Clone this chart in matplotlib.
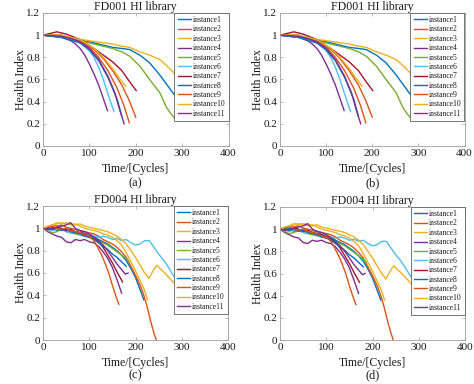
import matplotlib
matplotlib.use("Agg")
import matplotlib.pyplot as plt

plt.rcParams['font.family'] = ['Liberation Serif', 'DejaVu Serif']

# ---------------- data ----------------
labels = ['instance%d' % i for i in range(1, 12)]
colors = ['#0072BD', '#D95319', '#EDB120', '#7E2F8E', '#77AC30', '#4DBEEE',
          '#A2142F', '#0072BD', '#D95319', '#EDB120', '#7E2F8E']

# FD001 HI library (smooth degradation curves)
fd001_x = [
    [0, 50, 100, 150, 170, 187, 209, 230, 252, 273, 287, 300],
    [0, 40, 80, 110, 130, 150, 170, 185, 200],
    [0, 50, 100, 150, 170, 187, 209, 230, 252, 273, 287, 300],
    [0, 20, 40, 60, 70, 80, 90, 100, 110, 120, 130, 139],
    [0, 50, 100, 150, 170, 187, 209, 230, 252, 266, 276, 284],
    [0, 40, 60, 80, 100, 110, 120, 130, 140, 153],
    [0, 20, 30, 50, 80, 110, 130, 150, 170, 185, 201],
    [0, 40, 80, 100, 120, 140, 160, 170],
    [0, 40, 70, 100, 120, 140, 160, 175, 186],
    [0, 40, 80, 110, 130, 150, 165, 178],
    [0, 40, 60, 80, 100, 120, 140, 155, 165, 175],
]
fd001_y = [
    [1.0, 0.98, 0.94, 0.89, 0.88, 0.87, 0.82, 0.75, 0.64, 0.52, 0.44, 0.38],
    [1.0, 1.0, 0.95, 0.87, 0.79, 0.68, 0.55, 0.42, 0.26],
    [1.0, 0.98, 0.95, 0.92, 0.90, 0.89, 0.85, 0.82, 0.78, 0.70, 0.64, 0.60],
    [1.0, 0.99, 0.98, 0.95, 0.92, 0.88, 0.82, 0.74, 0.65, 0.55, 0.43, 0.32],
    [1.0, 0.98, 0.93, 0.88, 0.85, 0.81, 0.72, 0.60, 0.48, 0.35, 0.29, 0.25],
    [1.0, 0.98, 0.96, 0.93, 0.86, 0.80, 0.71, 0.60, 0.47, 0.31],
    [1.0, 1.02, 1.03, 1.01, 0.96, 0.88, 0.82, 0.76, 0.68, 0.59, 0.50],
    [1.0, 0.98, 0.93, 0.87, 0.77, 0.62, 0.42, 0.27],
    [1.0, 1.0, 0.96, 0.89, 0.80, 0.68, 0.52, 0.36, 0.21],
    [1.0, 1.0, 0.96, 0.88, 0.80, 0.70, 0.61, 0.54],
    [1.0, 0.99, 0.97, 0.94, 0.88, 0.78, 0.63, 0.48, 0.33, 0.20],
]

# FD004 HI library (noisy degradation curves)
fd004_x = [
    [0, 10, 20, 30, 40, 50, 60, 70, 80, 90, 100, 110, 120, 130, 140, 150, 160, 170, 180, 190, 200, 210, 218],
    [0, 10, 20, 30, 40, 50, 60, 70, 80, 90, 100, 110, 120, 130, 140, 150, 160, 170, 180, 190, 200, 210, 218, 225, 232, 240, 245],
    [0, 10, 20, 30, 40, 50, 60, 70, 80, 90, 100, 110, 120, 130, 140, 150, 160, 170, 180, 190, 200, 210, 220, 226],
    [0, 10, 20, 30, 40, 50, 60, 70, 80, 90, 100, 110, 120, 130, 140, 150, 160, 170],
    [0, 10, 20, 30, 40, 50, 60, 70, 80, 90, 100, 110, 120, 130, 140, 150, 160, 170, 180, 186],
    [0, 10, 20, 30, 40, 50, 60, 70, 80, 90, 100, 110, 120, 130, 140, 150, 160, 170, 180, 190, 200, 210, 220, 230, 240, 250, 260, 270, 280, 290],
    [0, 10, 20, 30, 40, 50, 60, 70, 80, 90, 100, 110, 120, 130, 140, 150, 160, 172],
    [0, 10, 20, 30, 40, 50, 60, 70, 80, 90, 100, 110, 120, 130, 140, 150, 160, 170, 180],
    [0, 10, 20, 30, 40, 50, 60, 70, 80, 90, 100, 110, 117, 128, 135, 142, 150, 157, 164],
    [0, 10, 20, 30, 40, 50, 60, 70, 80, 90, 100, 110, 120, 130, 140, 150, 160, 170, 180, 190, 200, 210, 220, 229, 238, 246, 255, 261, 270, 283, 290],
    [0, 10, 20, 30, 40, 50, 60, 70, 80, 90, 100, 110, 120, 130, 140, 150, 160, 170, 178, 184],
]
fd004_y = [
    [1.0, 0.99, 1.01, 0.98, 0.99, 1.0, 0.98, 0.97, 0.98, 0.95, 0.94, 0.93, 0.90, 0.88, 0.86, 0.83, 0.80, 0.76, 0.71, 0.64, 0.56, 0.45, 0.36],
    [1.0, 1.01, 1.03, 1.02, 1.03, 1.01, 1.0, 0.99, 0.98, 0.97, 0.96, 0.95, 0.93, 0.90, 0.88, 0.86, 0.83, 0.79, 0.74, 0.66, 0.58, 0.49, 0.40, 0.30, 0.18, 0.06, 0.0],
    [1.0, 1.0, 1.02, 1.04, 1.05, 1.04, 1.03, 1.04, 1.02, 1.0, 0.99, 0.98, 0.97, 0.95, 0.94, 0.92, 0.89, 0.85, 0.78, 0.70, 0.62, 0.53, 0.44, 0.36],
    [1.0, 0.97, 0.95, 0.93, 0.92, 0.88, 0.87, 0.90, 0.89, 0.90, 0.88, 0.87, 0.84, 0.79, 0.73, 0.65, 0.54, 0.42],
    [1.0, 0.98, 0.96, 0.97, 0.99, 0.97, 0.96, 0.95, 0.94, 0.93, 0.92, 0.91, 0.89, 0.87, 0.85, 0.82, 0.79, 0.76, 0.73, 0.70],
    [1.0, 0.99, 0.98, 0.99, 1.0, 0.97, 0.96, 0.97, 0.95, 0.94, 0.95, 0.93, 0.92, 0.93, 0.92, 0.90, 0.91, 0.89, 0.90, 0.87, 0.85, 0.86, 0.89, 0.89, 0.83, 0.77, 0.72, 0.66, 0.59, 0.53],
    [1.0, 1.0, 0.99, 1.01, 1.0, 0.98, 0.99, 0.97, 0.96, 0.95, 0.93, 0.91, 0.88, 0.83, 0.76, 0.69, 0.61, 0.52],
    [1.0, 1.01, 0.99, 1.0, 0.98, 0.99, 0.97, 0.96, 0.95, 0.93, 0.92, 0.90, 0.87, 0.84, 0.81, 0.77, 0.74, 0.70, 0.66],
    [1.0, 1.01, 1.02, 1.0, 0.99, 1.0, 0.98, 0.97, 0.96, 0.94, 0.93, 0.89, 0.84, 0.75, 0.68, 0.60, 0.49, 0.40, 0.32],
    [1.0, 1.02, 1.03, 1.05, 1.04, 1.05, 1.04, 1.03, 1.04, 1.02, 1.01, 1.0, 0.99, 0.98, 0.97, 0.95, 0.93, 0.90, 0.86, 0.80, 0.74, 0.67, 0.60, 0.55, 0.62, 0.67, 0.63, 0.61, 0.57, 0.51, 0.48],
    [1.0, 0.99, 1.0, 1.01, 1.02, 1.03, 1.05, 1.0, 0.98, 0.97, 0.95, 0.92, 0.89, 0.85, 0.80, 0.74, 0.68, 0.63, 0.59, 0.60],
]

panels = [
    ('FD001 HI library', '(a)', fd001_x, fd001_y),
    ('FD001 HI library', '(b)', fd001_x, fd001_y),
    ('FD004 HI library', '(c)', fd004_x, fd004_y),
    ('FD004 HI library', '(d)', fd004_x, fd004_y),
]
xticks = [0, 100, 200, 300, 400]
yticks = [0, 0.2, 0.4, 0.6, 0.8, 1.0, 1.2]
ytick_labels = ['0', '0.2', '0.4', '0.6', '0.8', '1', '1.2']

# ---------------- figure ----------------
W, H = 474, 384
fig = plt.figure(figsize=(W / 100, H / 100), dpi=100)

# axes boxes in pixels: (left, top, right, bottom)
boxes = [(43, 13, 228.5, 146), (280, 13, 464.5, 146),
         (43, 206, 228, 340), (280, 207, 465, 340)]
sub_y = [183, 183, 375, 375]
xlab_top = [163, 163, 357, 357]

spine_col = '#a0a0a0'
txt_col = '#1a1a1a'
for (title, tag, xs, ys), (l, t, r, b), sy, xt in zip(panels, boxes, sub_y, xlab_top):
    ax = fig.add_axes([l / W, 1 - b / H, (r - l) / W, (b - t) / H])
    for x, y, c, lab in zip(xs, ys, colors, labels):
        ax.plot(x, y, color=c, lw=1.0, label=lab)
    ax.set_xlim(0, 400)
    ax.set_ylim(0, 1.2)
    ax.set_xticks(xticks)
    ax.set_yticks(yticks)
    ax.set_yticklabels(ytick_labels)
    ax.tick_params(direction='in', length=2, width=0.5, colors=spine_col,
                   labelcolor=txt_col, labelsize=8, pad=2,
                   top=True, right=True)
    for s in ax.spines.values():
        s.set_color(spine_col)
        s.set_linewidth(0.6)
    ax.set_title(title, fontsize=8.5, pad=2.5, color=txt_col)
    ax.set_xlabel('Time/[Cycles]', fontsize=8.5, color=txt_col)
    ax.set_ylabel('Health Index', fontsize=8.5, color=txt_col)
    ax.xaxis.set_label_coords(0.5, (b - xt) / (b - t))
    ax.yaxis.set_label_coords(-(43 - 27) / (r - l), 0.5)
    leg = ax.legend(loc='upper right', fontsize=5.5, frameon=True, fancybox=False,
                    borderaxespad=0, handlelength=1.75, handletextpad=0.25,
                    labelspacing=0.18, borderpad=0.4)
    leg.get_frame().set_edgecolor('#606060')
    leg.get_frame().set_linewidth(0.6)
    leg.get_frame().set_alpha(1)
    for tx in leg.get_texts():
        tx.set_color(txt_col)
    fig.text(((l + r) / 2) / W, 1 - sy / H, tag, ha='center', va='center',
             fontsize=9, color=txt_col)

fig.savefig('out.png', dpi=100)
